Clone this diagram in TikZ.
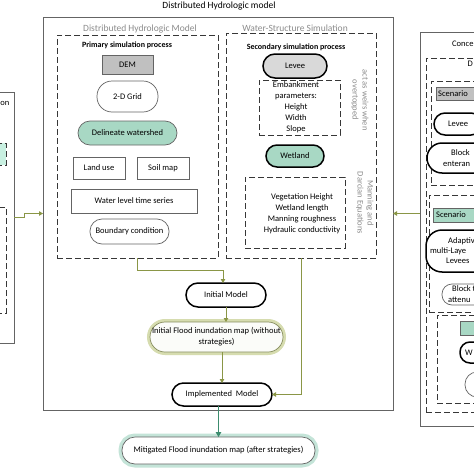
\documentclass[tikz,border=0pt]{standalone}
\usepackage{fontspec}
\setmainfont{Carlito}
\usetikzlibrary{arrows.meta}
\definecolor{grn}{RGB}{168,216,196}
\definecolor{lcyan}{RGB}{200,240,225}
\definecolor{demgray}{RGB}{192,192,192}
\definecolor{levgray}{RGB}{217,217,217}
\definecolor{olv}{RGB}{138,150,70}
\definecolor{teal2}{RGB}{60,140,110}
\definecolor{glowol}{RGB}{214,220,175}
\definecolor{glowtl}{RGB}{196,228,216}
\definecolor{frame}{RGB}{100,100,100}
\definecolor{dsh}{RGB}{55,55,55}
\definecolor{subt}{RGB}{140,140,140}
\tikzset{
  txt/.style={font=\fontsize{8.5}{11}\selectfont, align=center, inner sep=0pt},
  box/.style={draw=frame, line width=0.7pt, inner sep=0pt, outer sep=0pt, font=\fontsize{8.5}{11}\selectfont, align=center},
  tbox/.style={draw=black, line width=1.5pt, fill=white, inner sep=0pt, outer sep=0pt, font=\fontsize{8.5}{11}\selectfont, align=center},
  dbox/.style={draw=dsh, dash pattern=on 6pt off 3pt, line width=0.9pt, inner sep=0pt, outer sep=0pt},
  mainb/.style={draw=frame, line width=0.9pt, inner sep=0pt, outer sep=0pt},
  arr/.style={draw=olv, line width=0.9pt, -{Triangle[length=4pt,width=4.5pt]}},
  tarr/.style={draw=teal2, line width=1.4pt, -{Triangle[length=5pt,width=5.5pt]}},
  subtitle/.style={font=\fontsize{9.5}{11}\selectfont, text=subt, inner sep=0pt},
  rot/.style={font=\fontsize{8.5}{10}\selectfont, text=subt, align=center, inner sep=0pt, rotate=-90},
  lt/.style={txt, anchor=west}
}
\begin{document}
\begin{tikzpicture}[x=1pt,y=-1pt]
\useasboundingbox (0,0) rectangle (474,474);
\fill[white] (0,0) rectangle (474,474);
\begin{scope}
\clip (0,0) rectangle (474,474);

% ---------- title ----------
\node[font=\fontsize{9.5}{11}\selectfont, inner sep=0pt] (title) at (219,6) {Distributed Hydrologic model};

% ---------- main box ----------
\node[mainb, minimum width=350pt, minimum height=393pt] (main) at (218,213.5) {};
\node[subtitle] (sub1) at (140,29) {Distributed Hydrologic Model};
\node[subtitle] (sub2) at (295,28) {Water-Structure Simulation};

% left dashed box
\node[dbox, minimum width=161pt, minimum height=223pt] (dashL) at (137.5,146.5) {};
\node[txt, font=\bfseries\fontsize{8}{10}\selectfont] (prim) at (127,45) {Primary simulation process};
\node[box, fill=demgray, minimum width=51pt, minimum height=19pt] (dem) at (127.5,64.5) {DEM};
\node[box, rounded corners=15pt, minimum width=61pt, minimum height=31pt] (grid) at (127.5,96.5) {2-D Grid};
\node[box, fill=grn, rounded corners=12pt, minimum width=99pt, minimum height=24pt] (delin) at (127.5,133) {Delineate watershed};
\node[box, minimum width=52pt, minimum height=22pt] (land) at (99,168) {Land use};
\node[box, minimum width=52pt, minimum height=22pt] (soil) at (163,168) {Soil map};
\node[box, minimum width=126pt, minimum height=24pt] (wlts) at (134,201) {Water level time series};
\node[box, rounded corners=12pt, minimum width=79pt, minimum height=25pt] (bc) at (129.5,231.5) {Boundary condition};

% right dashed box
\node[dbox, minimum width=150pt, minimum height=225pt] (dashR) at (301,145.5) {};
\node[txt, font=\bfseries\fontsize{8}{10}\selectfont] (sec) at (296,47) {Secondary simulation process};
\node[tbox, fill=levgray, rounded corners=12pt, minimum width=64pt, minimum height=24pt] (levee) at (295,66) {Levee};
\node[dbox, minimum width=81pt, minimum height=55pt] (emb) at (299.5,107.5) {};
\node[txt] (embt) at (296,107) {Embankment\\parameters:\\Height\\Width\\Slope};
\node[rot] (weir) at (360,100) {act as weirs when\\overtopped};
\node[tbox, fill=grn, rounded corners=11pt, minimum width=58pt, minimum height=22pt] (wet) at (295,156) {Wetland};
\node[dbox, minimum width=100pt, minimum height=71pt] (veg) at (295,212.5) {};
\node[txt] (vegt) at (302,213.5) {Vegetation Height\\Wetland length\\Manning roughness\\Hydraulic conductivity};
\node[rot] (mann) at (365,203) {Manning and\\Darcian Equations};

% flow nodes
\node[tbox, rounded corners=12pt, minimum width=80pt, minimum height=24pt] (init) at (226,295) {Initial Model};
\node[box, draw=olv!60!gray, fill=white!97!olv, rounded corners=15pt, minimum width=133pt, minimum height=30pt,
      preaction={draw=glowol, line width=6pt}] (ifm) at (216.5,337) {Initial Flood inundation map (without\\strategies)};
\node[tbox, rounded corners=11.5pt, minimum width=100pt, minimum height=23pt] (impl) at (222,394.5) {Implemented\ \ Model};
\node[box, fill=white, rounded corners=13pt, minimum width=193pt, minimum height=27pt,
      preaction={draw=glowtl, line width=7pt}] (mit) at (218.5,450.5) {Mitigated Flood inundation map (after strategies)};

% connectors
\draw[arr] (dashL.south) -- ++(0,12) -| ([xshift=-3pt]init.north);
\draw[arr] (init.south) -- (init.south |- ifm.north);
\draw[arr] (impl.north |- ifm.south) -- (impl.north);
\draw[arr] (dashR.south) |- (impl.east);
\draw[tarr] (mit.north |- impl.south) -- (mit.north);

% ---------- left partial panel ----------
\node[mainb, minimum width=64pt, minimum height=251pt] (lbox) at (-18,217.5) {};
\node[txt, anchor=east] (ltitle) at (9.5,103) {on};
\node[dbox, fill=lcyan, minimum width=46pt, minimum height=22pt] (lcy) at (-17,154) {};
\node[dbox, minimum width=46pt, minimum height=106pt] (ldash) at (-17,260) {};
\draw[arr] (lbox.east) -- ++(10,0) |- (main.west);

% ---------- right partial panel ----------
\node[mainb, minimum width=100pt, minimum height=394pt] (rbox) at (470,229) {};
\node[lt] (rtitle) at (452,44) {Conce};
\node[dbox, minimum width=94pt, minimum height=354pt] (dashD) at (473,235) {};
\node[lt] (dtitle) at (467.5,63.5) {D};
\node[dbox, minimum width=89pt, minimum height=104pt] (d1) at (475.5,133) {};
\node[box, fill=demgray, minimum width=84pt, minimum height=13pt] (sc1) at (478,93.5) {};
\node[lt] (sc1t) at (438,93.5) {Scenario};
\node[tbox, rounded corners=11pt, minimum width=48pt, minimum height=22pt] (lev2) at (458,124) {Levee};
\node[tbox, rounded corners=15pt, minimum width=68pt, minimum height=30pt] (blk) at (461,158) {};
\node[lt] (blka) at (451,153) {Block};
\node[lt] (blkb) at (443,164) {enteran};
\node[dbox, minimum width=91pt, minimum height=117pt] (d2) at (474.5,253.5) {};
\node[box, fill=grn, minimum width=87pt, minimum height=14pt] (sc2) at (476.5,215) {};
\node[lt] (sc2t) at (436,215) {Scenario};
\node[tbox, rounded corners=16pt, minimum width=68pt, minimum height=42pt] (adapt) at (460,251) {};
\node[lt] (ada) at (448,241) {Adaptiv};
\node[lt] (adb) at (430,251) {multi-Laye};
\node[lt] (adc) at (446,261) {Levees};
\node[box, rounded corners=10pt, minimum width=68pt, minimum height=21pt] (blk2) at (476,294.5) {};
\node[lt] (b2a) at (452,289) {Block t};
\node[lt] (b2b) at (448,300) {attenu};
\node[dbox, minimum width=83pt, minimum height=88pt] (d3) at (478.5,359) {};
\node[box, fill=grn, minimum width=60pt, minimum height=14pt] (g3) at (490,328) {};
\node[tbox, rounded corners=10pt, minimum width=60pt, minimum height=21pt] (w3) at (490,352.5) {};
\node[lt] (w3t) at (465,352.5) {W};
\node[box, rounded corners=12pt, minimum width=65pt, minimum height=25pt] (p3) at (497.5,384.5) {};
\draw[arr] (rbox.west |- main.east) -- (main.east);
\end{scope}
\end{tikzpicture}
\end{document}
